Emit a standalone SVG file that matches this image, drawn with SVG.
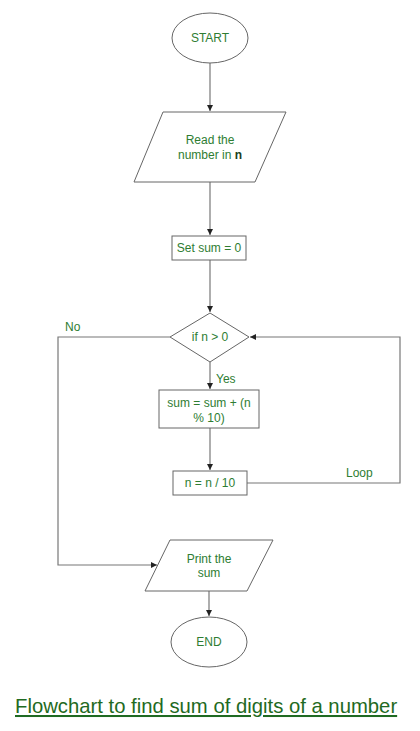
<svg xmlns="http://www.w3.org/2000/svg" width="420" height="731" viewBox="0 0 420 731">
<defs>
<marker id="ah" viewBox="0 0 10 10" refX="10" refY="5" markerWidth="6" markerHeight="6" markerUnits="userSpaceOnUse" orient="auto">
<path d="M0,0 L10,5 L0,10 Z" fill="#222"/>
</marker>
</defs>
<style>
.shape{fill:#fff;stroke:#666;stroke-width:1}
.t{font-family:"Liberation Sans",Arial,sans-serif;font-size:12px;fill:#2e7d32;text-anchor:middle}
.lbl{font-family:"Liberation Sans",Arial,sans-serif;font-size:12px;fill:#2e7d32}
.c{fill:none;stroke:#777;stroke-width:1.2}
.title{font-family:"Liberation Sans",Arial,sans-serif;font-size:20.3px;fill:#1f6a22;text-decoration:underline}
</style>
<rect width="420" height="731" fill="#fff"/>
<g id="connectors">
<path class="c" d="M210,63 V111" marker-end="url(#ah)"/>
<path class="c" d="M210,182 V235" marker-end="url(#ah)"/>
<path class="c" d="M210,260 V312" marker-end="url(#ah)"/>
<path class="c" d="M210,362 V389" marker-end="url(#ah)"/>
<path class="c" d="M210,428 V470" marker-end="url(#ah)"/>
<path class="c" d="M247,483 H400 V337 H250" marker-end="url(#ah)"/>
<path class="c" d="M170,337 H58 V565 H157" marker-end="url(#ah)"/>
<path class="c" d="M209,591 V616" marker-end="url(#ah)"/>
<text class="lbl" x="65" y="331">No</text>
<text class="lbl" x="216" y="383">Yes</text>
<text class="lbl" x="346" y="477">Loop</text>
</g>
<g id="start">
<ellipse class="shape" cx="210" cy="38" rx="38" ry="25"/>
<text class="t" x="210" y="42">START</text>
</g>
<g id="read">
<polygon class="shape" points="163,112 286,112 255,182 134,182"/>
<text class="t" x="210" y="144">Read the</text>
<text class="t" x="210" y="159">number in <tspan font-weight="bold" fill="#1b3d1b">n</tspan></text>
</g>
<g id="setsum">
<rect class="shape" x="172" y="236" width="74" height="24"/>
<text class="t" x="209" y="252">Set sum = 0</text>
</g>
<g id="cond">
<polygon class="shape" points="210,313 249,337 210,362 170,337"/>
<text class="t" x="210" y="341">if n &gt; 0</text>
</g>
<g id="add">
<rect class="shape" x="159" y="390" width="100" height="38"/>
<text class="t" x="209" y="407">sum = sum + (n</text>
<text class="t" x="209" y="422">% 10)</text>
</g>
<g id="div">
<rect class="shape" x="173" y="471" width="74" height="24"/>
<text class="t" x="210" y="487">n = n / 10</text>
</g>
<g id="print">
<polygon class="shape" points="170,540 273,540 247,591 145,591"/>
<text class="t" x="209" y="563">Print the</text>
<text class="t" x="209" y="577">sum</text>
</g>
<g id="end">
<ellipse class="shape" cx="209" cy="642" rx="38" ry="25"/>
<text class="t" x="209" y="646">END</text>
</g>
<text class="title" x="15" y="713">Flowchart to find sum of digits of a number</text>
</svg>
